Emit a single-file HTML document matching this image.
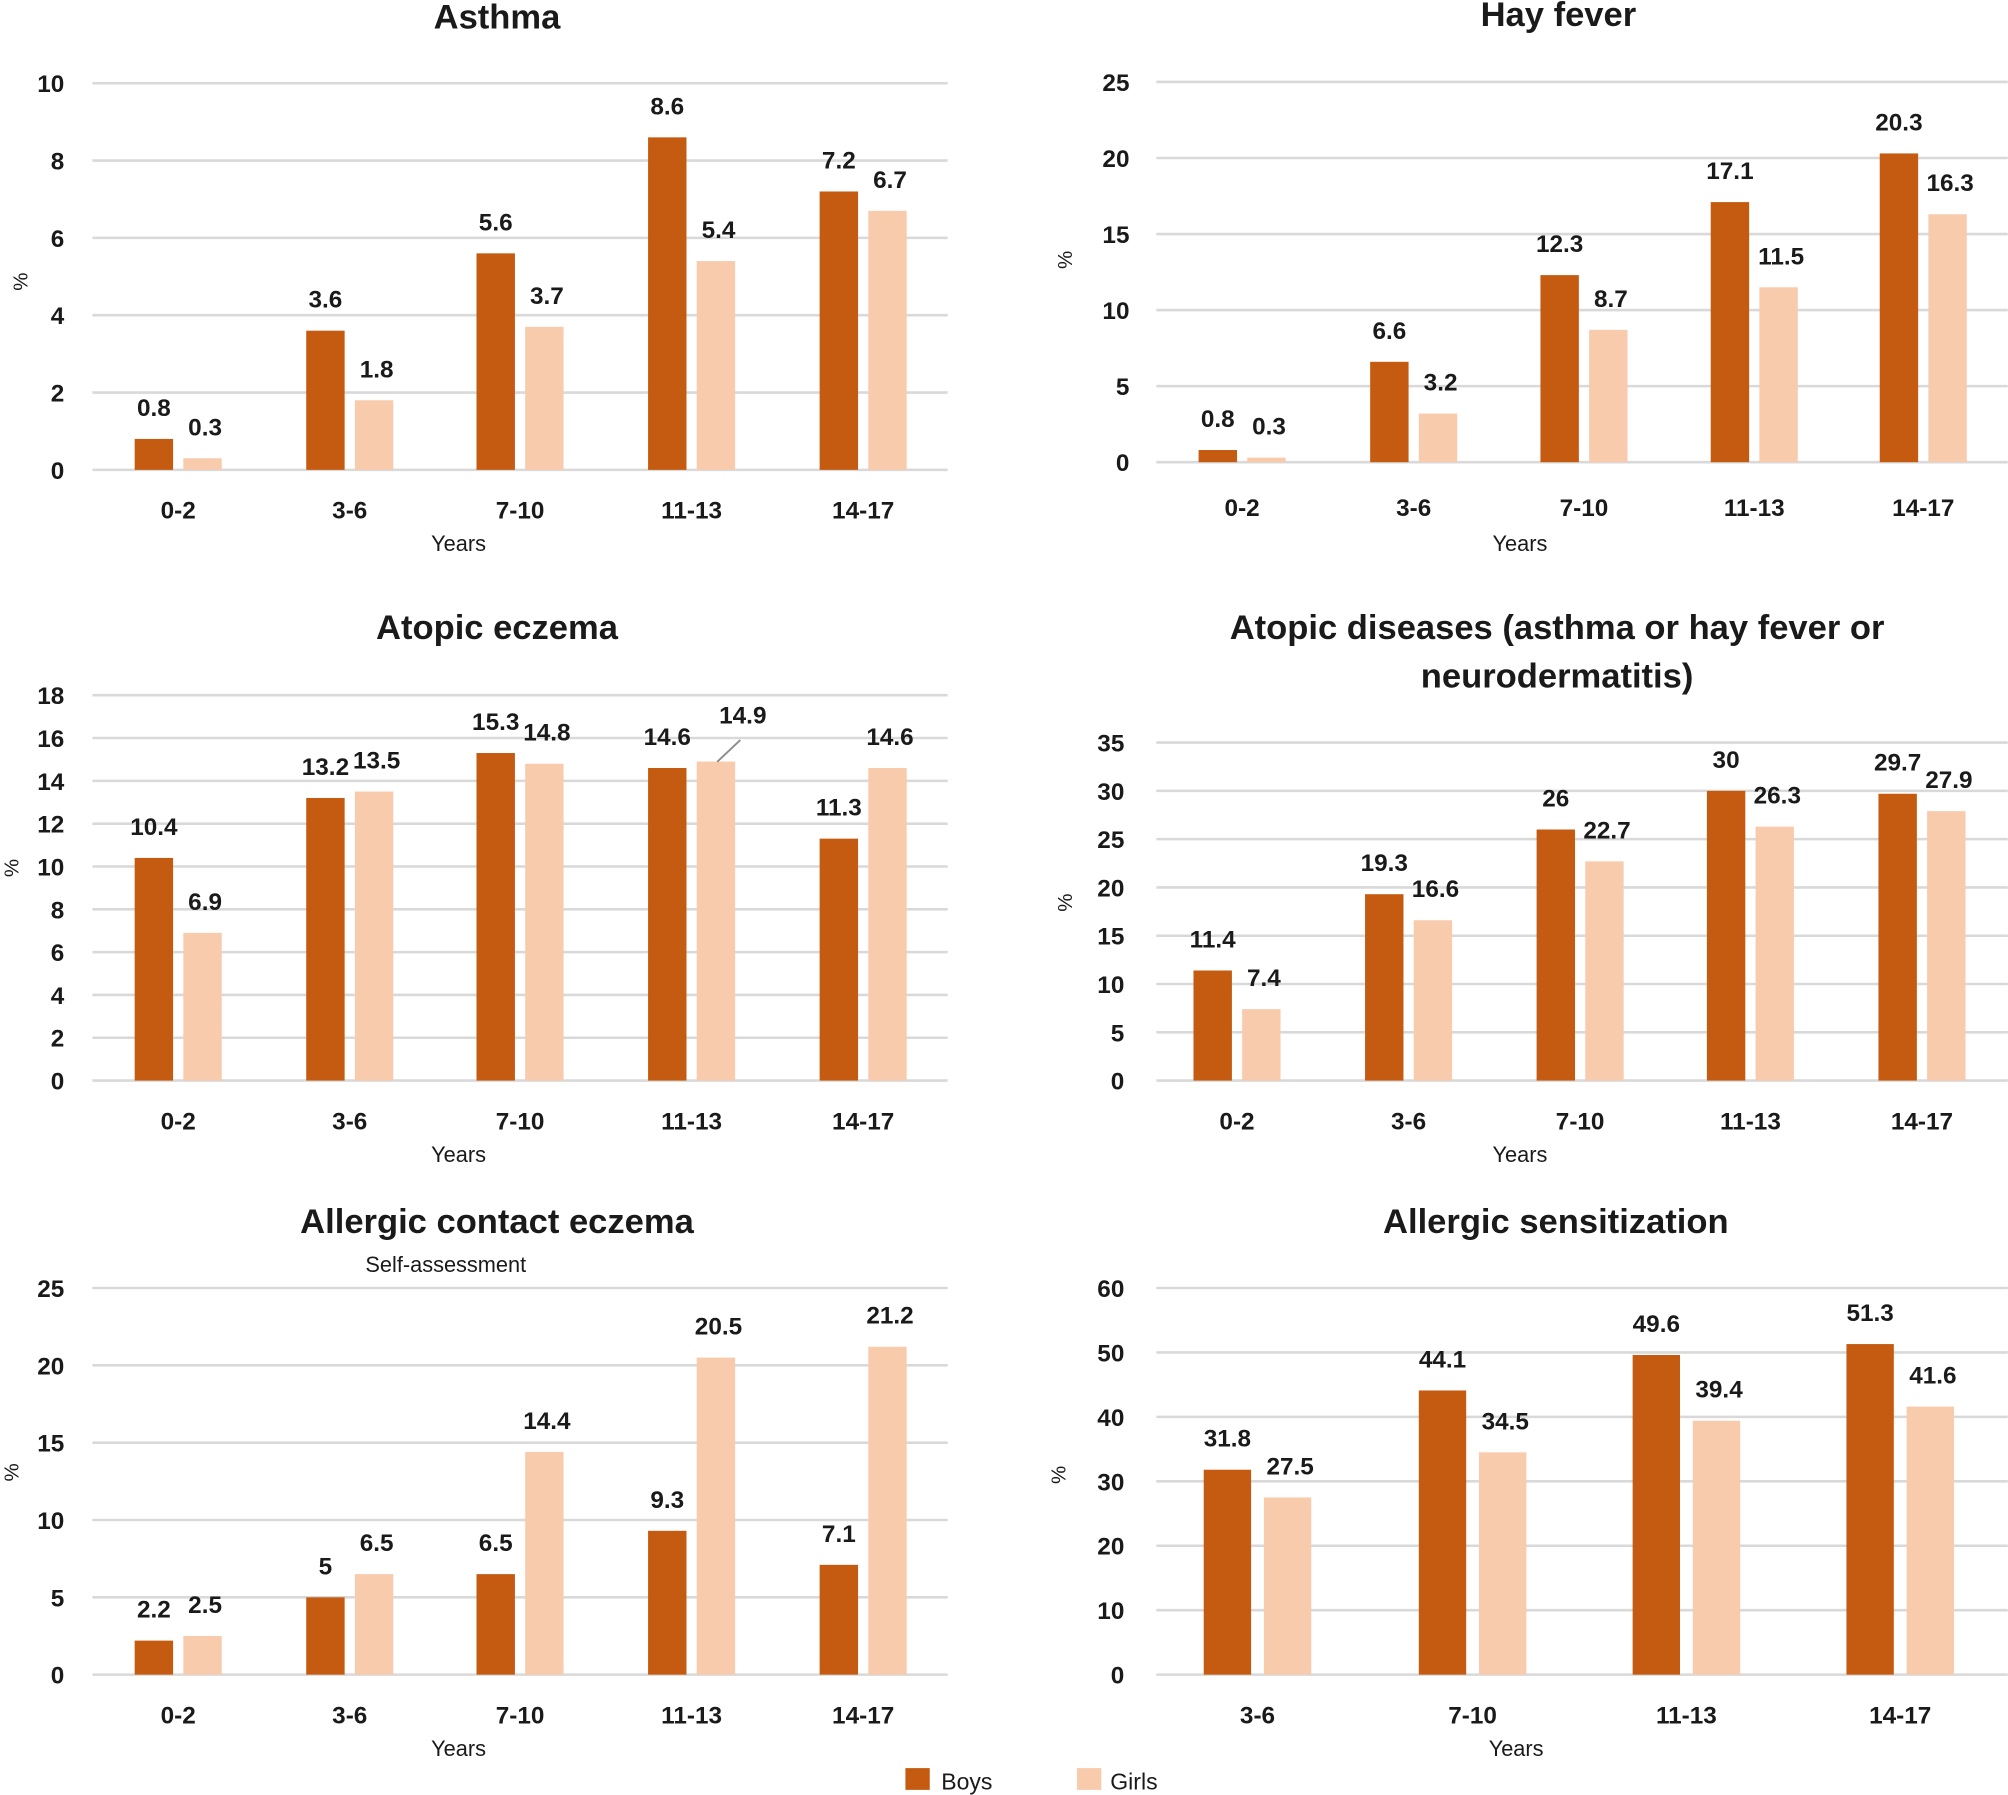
<!DOCTYPE html>
<html><head><meta charset="utf-8"><style>
html,body{margin:0;padding:0;background:#fff;}
svg{display:block;}
text{font-family:"Liberation Sans",sans-serif;fill:#1a1a1a;}
</style></head><body>
<svg id="s" width="2008" height="1795" viewBox="0 0 1568 1402" xmlns="http://www.w3.org/2000/svg"></svg>
<script>
const S=document.getElementById('s');let h='';
const B='#C55A11',G='#F8CBAD';
function t(x,y,s,sz,bold,anchor,extra){y+=2;h+=`<text x="${x}" y="${y}" font-size="${sz}" ${bold?'font-weight="bold"':''} text-anchor="${anchor||'middle'}" dominant-baseline="middle" ${extra||''}>${s}</text>`;}
function chart(c){
  const unit=(c.y0-c.yTop)/c.max;
  const co=c.catOff||31, yo=c.yrOff||57;
  for(let v=0;v<=c.max;v+=c.step){const y=c.y0-v*unit;
    h+=`<line x1="${c.x1}" x2="${c.x2}" y1="${y}" y2="${y}" stroke="#D9D9D9" stroke-width="2"/>`;
    t(c.tx,y,v,19,true,'end');}
  c.cats.forEach((cat,i)=>{const cx=c.cx[i];
    const bw=c.bw,off=c.off;
    const hb=c.boys[i]*unit,hg=c.girls[i]*unit;
    h+=`<rect x="${cx-off-bw/2}" y="${c.y0-hb}" width="${bw}" height="${hb}" fill="${B}"/>`;
    h+=`<rect x="${cx+off-bw/2}" y="${c.y0-hg}" width="${bw}" height="${hg}" fill="${G}"/>`;
    t(cx-off,c.y0-hb-25,c.boys[i],19,true);
    if(!(c.skipG&&c.skipG===i)) t(cx+off+2,c.y0-hg-25,c.girls[i],19,true);
    t(cx,c.y0+co,cat,19,true);
  });
  t(c.yearsX,c.y0+yo,'Years',17,false);
  h+=`<text x="${c.pctX}" y="${c.pctY}" font-size="16" text-anchor="middle" dominant-baseline="middle" transform="rotate(-90 ${c.pctX} ${c.pctY})">%</text>`;
}
const C5=['0-2','3-6','7-10','11-13','14-17'];
chart({x1:72,x2:740,yTop:65,y0:367,max:10,step:2,tx:50,cats:C5,cx:[139,273,406,540,674],bw:30,off:19,
 boys:[0.8,3.6,5.6,8.6,7.2],girls:[0.3,1.8,3.7,5.4,6.7],yearsX:358,pctX:17,pctY:220});
t(388,13,'Asthma',27,true);
chart({x1:903,x2:1568,yTop:64,y0:361,max:25,step:5,tx:882,cats:C5,cx:[970,1104,1237,1370,1502],bw:30,off:19,catOff:35,yrOff:63,
 boys:[0.8,6.6,12.3,17.1,20.3],girls:[0.3,3.2,8.7,11.5,16.3],yearsX:1187,pctX:833,pctY:203});
t(1217,11,'Hay fever',27,true);
chart({x1:72,x2:740,yTop:543,y0:844,max:18,step:2,tx:50,cats:C5,cx:[139,273,406,540,674],bw:30,off:19,
 boys:[10.4,13.2,15.3,14.6,11.3],girls:[6.9,13.5,14.8,14.9,14.6],yearsX:358,pctX:10,pctY:678,skipG:3});
t(580,558,'14.9',19,true);
h+=`<line x1="560" y1="595" x2="578" y2="578" stroke="#8c8c8c" stroke-width="1.5"/>`;
t(388,490,'Atopic eczema',27,true);
chart({x1:903,x2:1568,yTop:580,y0:844,max:35,step:5,tx:878,cats:C5,cx:[966,1100,1234,1367,1501],bw:30,off:19,
 boys:[11.4,19.3,26,30,29.7],girls:[7.4,16.6,22.7,26.3,27.9],yearsX:1187,pctX:833,pctY:705});
t(1216,490,'Atopic diseases (asthma or hay fever or',27,true);
t(1216,528,'neurodermatitis)',27,true);
chart({x1:72,x2:740,yTop:1006,y0:1308,max:25,step:5,tx:50,cats:C5,cx:[139,273,406,540,674],bw:30,off:19,
 boys:[2.2,5,6.5,9.3,7.1],girls:[2.5,6.5,14.4,20.5,21.2],yearsX:358,pctX:10,pctY:1150});
t(388,954,'Allergic contact eczema',27,true);
t(348,987,'Self-assessment',17,false);
chart({x1:903,x2:1568,yTop:1006,y0:1308,max:60,step:10,tx:878,cats:['3-6','7-10','11-13','14-17'],cx:[982,1150,1317,1484],bw:37,off:23.5,
 boys:[31.8,44.1,49.6,51.3],girls:[27.5,34.5,39.4,41.6],yearsX:1184,pctX:828,pctY:1152});
t(1215,954,'Allergic sensitization',27,true);
h+=`<rect x="707" y="1381" width="19" height="17" fill="${B}"/>`;t(735,1391,'Boys',18,false,'start');
h+=`<rect x="841" y="1381" width="19" height="17" fill="${G}"/>`;t(867,1391,'Girls',18,false,'start');
S.innerHTML=h;
</script>
</body></html>
